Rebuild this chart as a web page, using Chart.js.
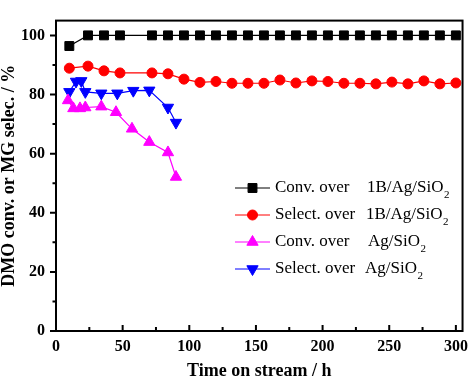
<!DOCTYPE html>
<html>
<head>
<meta charset="utf-8">
<script src="https://cdn.jsdelivr.net/npm/chart.js@4"></script>
<style>
  html, body { margin: 0; padding: 0; background: #fff; }
  #wrap { width: 474px; height: 376px; }
</style>
</head>
<body>
<div id="wrap"><canvas id="stabilityChart" width="474" height="376"></canvas></div>
<script>
// time on stream (h)
const timeB = [10, 24, 36, 48, 72, 84, 96, 108, 120, 132, 144, 156, 168, 180, 192, 204, 216, 228, 240, 252, 264, 276, 288, 300];
const convB = [96.4, 100, 100, 100, 100, 100, 100, 100, 100, 100, 100, 100, 100, 100, 100, 100, 100, 100, 100, 100, 100, 100, 100, 100];
const selB = [88.9, 89.6, 88.0, 87.3, 87.3, 87.0, 85.2, 84.1, 84.4, 83.8, 83.8, 83.8, 84.9, 83.9, 84.6, 84.4, 83.8, 83.8, 83.6, 84.2, 83.6, 84.6, 83.6, 83.9];

const timeConvA = [9, 13, 18, 22, 34, 45, 57, 70, 84, 90];
const convA = [78.0, 75.3, 75.3, 75.6, 75.9, 74.0, 68.4, 63.9, 60.4, 52.1];
const timeSelA = [10, 15, 19, 22, 34, 46, 58, 70, 84, 90];
const selA = [80.9, 84.4, 84.6, 80.9, 80.4, 80.4, 81.3, 81.4, 75.6, 70.5];

const legendMain = ['Conv. over', 'Select. over', 'Conv. over', 'Select. over'];
const legendCat = ['1B/Ag/SiO', '1B/Ag/SiO', 'Ag/SiO', 'Ag/SiO'];

const xTickLabels = [0, 50, 100, 150, 200, 250, 300];
const xMinorTicks = [25, 75, 125, 175, 225, 275];
const yTickLabels = [0, 20, 40, 60, 80, 100];
const yMinorTicks = [10, 30, 50, 70, 90];

const FONT = "'Liberation Serif', 'Times New Roman', serif";
Chart.defaults.font.family = FONT;
Chart.defaults.color = '#000';

const toPoints = (xs, ys) => xs.map((x, i) => ({ x: x, y: ys[i] }));

function series(label, xs, ys, color, style, radius, rotation) {
    return {
        label: label,
        data: toPoints(xs, ys),
        borderColor: color,
        backgroundColor: color,
        borderWidth: 1.2,
        pointStyle: style,
        pointRotation: rotation || 0,
        pointRadius: radius,
        pointHoverRadius: radius,
        pointBorderWidth: 1,
        tension: 0,
        clip: false
    };
}

const datasets = [
    series('Conv. over 1B/Ag/SiO2', timeB, convB, '#000000', 'rect', 6.3),
    series('Select. over 1B/Ag/SiO2', timeB, selB, '#ff0000', 'circle', 5),
    series('Conv. over Ag/SiO2', timeConvA, convA, '#ff00ff', 'triangle', 6.5),
    series('Select. over Ag/SiO2', timeSelA, selA, '#0000ff', 'triangle', 6.5, 180)
];

// frame + ticks (y outward, x inward)
const framePlugin = {
    id: 'frame',
    afterDatasetsDraw(chart) {
        const { ctx, chartArea: a, scales } = chart;
        ctx.save();
        ctx.strokeStyle = '#000';
        ctx.lineWidth = 2;
        ctx.strokeRect(a.left, a.top, a.right - a.left, a.bottom - a.top);
        ctx.beginPath();
        yTickLabels.concat(yMinorTicks).forEach(v => {
            const y = scales.y.getPixelForValue(v);
            const len = yTickLabels.includes(v) ? 6 : 3.5;
            ctx.moveTo(a.left - len, y);
            ctx.lineTo(a.left, y);
        });
        xTickLabels.concat(xMinorTicks).forEach(v => {
            const x = scales.x.getPixelForValue(v);
            const len = xTickLabels.includes(v) ? 6 : 4;
            ctx.moveTo(x, a.bottom);
            ctx.lineTo(x, a.bottom - len);
        });
        ctx.stroke();
        ctx.restore();
    }
};

// legend inside the plot, with subscript 2
const legendPlugin = {
    id: 'innerLegend',
    afterDraw(chart) {
        const ctx = chart.ctx;
        const rowY = [188, 215, 242, 269];
        const catX = [367, 366, 368, 365];
        ctx.save();
        chart.data.datasets.forEach((ds, i) => {
            const y = rowY[i];
            ctx.strokeStyle = ds.borderColor;
            ctx.lineWidth = 1;
            ctx.beginPath();
            ctx.moveTo(235, y);
            ctx.lineTo(270, y);
            ctx.stroke();
            ctx.fillStyle = ds.backgroundColor;
            Chart.helpers.drawPoint(ctx, {
                pointStyle: ds.pointStyle,
                rotation: ds.pointRotation,
                radius: ds.pointRadius,
                borderWidth: 1
            }, 252.5, y);
            ctx.fillStyle = '#000';
            ctx.textBaseline = 'middle';
            ctx.textAlign = 'left';
            ctx.font = '17px ' + FONT;
            ctx.fillText(legendMain[i], 275, y);
            ctx.fillText(legendCat[i], catX[i], y);
            const w = ctx.measureText(legendCat[i]).width;
            ctx.font = '11px ' + FONT;
            ctx.fillText('2', catX[i] + w + 0.5, y + 7);
        });
        ctx.restore();
    }
};

new Chart(document.getElementById('stabilityChart'), {
    type: 'line',
    data: { datasets: datasets },
    options: {
        responsive: false,
        animation: false,
        layout: { padding: { top: 2, right: 6, left: 0, bottom: 0 } },
        plugins: {
            legend: { display: false },
            tooltip: { enabled: false }
        },
        scales: {
            x: {
                type: 'linear',
                min: 0,
                max: 305,
                afterBuildTicks: s => { s.ticks = xTickLabels.map(v => ({ value: v })); },
                afterFit: s => { s.height = 45; },
                grid: { display: false, drawTicks: false },
                border: { display: false },
                ticks: {
                    autoSkip: false,
                    maxRotation: 0,
                    padding: 6,
                    color: '#000',
                    font: { size: 16, weight: 'bold' }
                },
                title: {
                    display: true,
                    text: 'Time on stream / h',
                    color: '#000',
                    padding: 0,
                    font: { size: 18, weight: 'bold', lineHeight: 0.5 }
                }
            },
            y: {
                min: 0,
                max: 105,
                afterBuildTicks: s => { s.ticks = yTickLabels.map(v => ({ value: v })); },
                afterFit: s => { s.width = 56; },
                grid: { display: false, drawTicks: false },
                border: { display: false },
                ticks: {
                    padding: 11,
                    color: '#000',
                    font: { size: 16, weight: 'bold' }
                },
                title: {
                    display: true,
                    text: 'DMO conv. or MG selec. / %',
                    color: '#000',
                    padding: 0,
                    font: { size: 18, weight: 'bold', lineHeight: 1 }
                }
            }
        }
    },
    plugins: [framePlugin, legendPlugin]
});
</script>
</body>
</html>
